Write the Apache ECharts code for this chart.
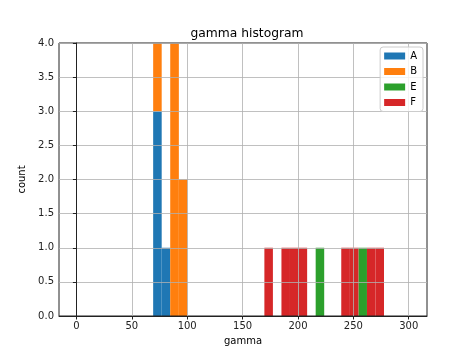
<!DOCTYPE html>
<html><head><meta charset="utf-8">
<script src="https://cdn.jsdelivr.net/npm/echarts@6/dist/echarts.min.js"></script>
<style>html,body{margin:0;padding:0;background:#fff}#c{width:474px;height:355px}</style>
</head><body><div id="c"></div>
<script>
// Shared bin edges (27 bins)
const binEdges = [69.3, 77.0, 84.7, 92.5, 100.2, 107.9, 115.6, 123.3, 131.1, 138.8, 146.5, 154.2, 161.9, 169.7,
  177.4, 185.1, 192.8, 200.5, 208.3, 216.0, 223.7, 231.4, 239.1, 246.9, 254.6, 262.3, 270.0, 277.7];
const seriesNames = ['A', 'B', 'E', 'F'];
const countsA = [3,1,0,0,0,0,0,0,0,0,0,0,0,0,0,0,0,0,0,0,0,0,0,0,0,0,0];
const countsB = [1,0,4,2,0,0,0,0,0,0,0,0,0,0,0,0,0,0,0,0,0,0,0,0,0,0,0];
const countsE = [0,0,0,0,0,0,0,0,0,0,0,0,0,0,0,0,0,0,0,1,0,0,0,0,1,0,0];
const countsF = [0,0,0,0,0,0,0,0,0,0,0,0,0,1,0,1,1,1,0,0,0,0,1,1,0,1,1];
const xTicks = [0, 50, 100, 150, 200, 250, 300];
const yTicks = [0, 0.5, 1, 1.5, 2, 2.5, 3, 3.5, 4];

const allCounts = [countsA, countsB, countsE, countsF];
const colors = ['#1f77b4', '#ff7f0e', '#2ca02c', '#d62728'];
const font = 'DejaVu Sans';

const bottoms = binEdges.slice(0, -1).map(() => 0);
const series = allCounts.map((counts, si) => {
  const data = [];
  counts.forEach((c, i) => {
    if (c > 0) data.push([binEdges[i], binEdges[i + 1], bottoms[i], bottoms[i] + c]);
    bottoms[i] += c;
  });
  return {
    name: seriesNames[si], type: 'custom', z: -1, clip: true,
    itemStyle: { color: colors[si] },
    encode: { x: [0, 1], y: [2, 3] },
    data,
    renderItem: (params, api) => {
      const p0 = api.coord([api.value(0), api.value(3)]);
      const p1 = api.coord([api.value(1), api.value(2)]);
      return {
        type: 'rect',
        shape: { x: p0[0], y: p0[1], width: p1[0] - p0[0], height: p1[1] - p0[1] },
        style: { fill: colors[si] }
      };
    }
  };
});

const chart = echarts.init(document.getElementById('c'));
chart.setOption({
  animation: false,
  backgroundColor: '#fff',
  title: {
    text: 'gamma histogram', left: 242, top: 23, textAlign: 'center',
    textStyle: { fontFamily: font, fontSize: 12.3, fontWeight: 'normal', color: '#000' }
  },
  legend: {
    data: seriesNames, orient: 'vertical', right: 51, top: 47,
    icon: 'rect', itemWidth: 21, itemHeight: 7, itemGap: 3.5,
    backgroundColor: 'rgba(255,255,255,0.8)', borderColor: '#cccccc', borderWidth: 1, borderRadius: 3,
    padding: [3, 6, 3, 4],
    textStyle: { fontFamily: font, fontSize: 10, color: '#000', lineHeight: 12 }
  },
  grid: { left: 59, right: 47, top: 43, bottom: 39, show: true, borderColor: '#222', borderWidth: 1, backgroundColor: 'transparent' },
  xAxis: {
    type: 'value', min: -15.7, max: 316.5,
    name: 'gamma', nameLocation: 'middle', nameGap: 20,
    nameTextStyle: { fontFamily: font, fontSize: 10, color: '#000' },
    axisLine: { show: true, onZero: false, lineStyle: { color: '#222' } },
    axisTick: { show: true, length: 3.5, customValues: xTicks, lineStyle: { color: '#222' } },
    axisLabel: { customValues: xTicks, fontFamily: font, fontSize: 10, color: '#222', margin: 5 },
    splitLine: { show: true, lineStyle: { color: '#b0b0b0', width: 0.8 } }
  },
  yAxis: {
    type: 'value', min: 0, max: 4, interval: 0.5,
    name: 'count', nameLocation: 'middle', nameGap: 31,
    nameTextStyle: { fontFamily: font, fontSize: 10, color: '#000' },
    axisLine: { show: true, lineStyle: { color: '#222' } },
    axisTick: { show: true, length: 3.5, lineStyle: { color: '#222' } },
    axisLabel: { fontFamily: font, fontSize: 10, color: '#222', margin: 5, formatter: v => v.toFixed(1) },
    splitLine: { show: true, lineStyle: { color: '#b0b0b0', width: 0.8 } }
  },
  series
});
</script></body></html>
